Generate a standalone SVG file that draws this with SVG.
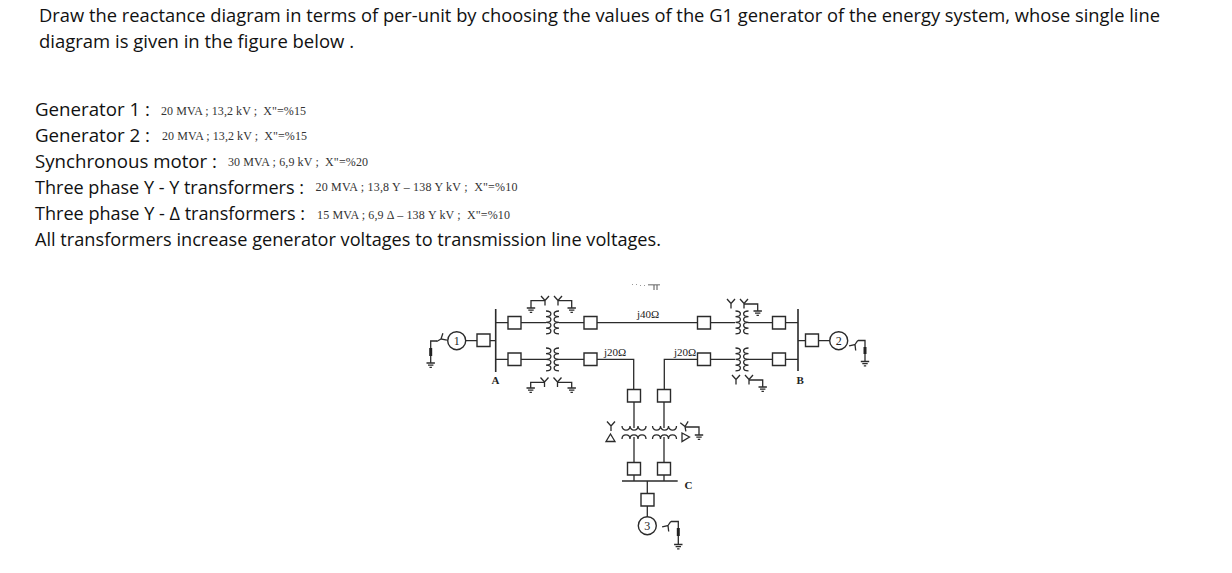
<svg xmlns="http://www.w3.org/2000/svg" width="1232" height="573" viewBox="0 0 1232 573">
<style>
.t{font-family:"Open Sans","Noto Sans",sans-serif;font-size:18px;fill:#111}
.s{font-family:"Liberation Serif",serif;font-size:12px;fill:#333}
.l{font-family:"Liberation Serif",serif;font-size:11px;fill:#222}
.b{font-family:"Liberation Serif",serif;font-size:11px;font-weight:bold;fill:#222}
.n{font-family:"Liberation Serif",serif;font-size:12px;fill:#222;text-anchor:middle}
.w{fill:none;stroke:#2b2b2b;stroke-width:1.3}
.h{fill:none;stroke:#2b2b2b;stroke-width:1.6}
.x{fill:#fff;stroke:#2b2b2b;stroke-width:1.4}
</style>
<defs>
<path id="gnd" class="w" d="M-4.200 0H4.200M-2.700 2.200H2.700M-1.200 4.400H1.200"/>
<path id="box" class="x" d="M0 0h13v12.500h-13z"/>
<path id="y" class="w" d="M-4 -4.500L0 0L4 -4.500M0 0V5"/>
<path id="coilv" class="w" d="M546 0c6.500 0 6.500 5.700 0 5.700c6.500 0 6.500 5.700 0 5.700c6.500 0 6.500 5.700 0 5.700c6.500 0 6.500 5.700 0 5.700M559 0c-6.500 0-6.500 5.700 0 5.700c-6.500 0-6.500 5.700 0 5.700c-6.500 0-6.500 5.700 0 5.700c-6.500 0-6.500 5.700 0 5.700"/>
<path id="coilh" class="w" d="M0 0c0 5.500 8 5.500 8 0c0 5.500 8 5.500 8 0c0 5.500 8 5.500 8 0M0 13c0-5.500 8-5.500 8 0c0-5.500 8-5.500 8 0c0-5.500 8-5.500 8 0"/>
</defs>
<rect width="1232" height="573" fill="#fff"/>
<g id="statement">
<text class="t" x="39" y="22" textLength="1121" lengthAdjust="spacingAndGlyphs">Draw the reactance diagram in terms of per-unit by choosing the values of the G1 generator of the energy system, whose single line</text>
<text class="t" x="39" y="48" textLength="315" lengthAdjust="spacingAndGlyphs">diagram is given in the figure below .</text>
<text class="t" x="35" y="116" textLength="115" lengthAdjust="spacingAndGlyphs">Generator 1 :</text>
<text class="s" x="161" y="115" textLength="145" xml:space="preserve">20 MVA ; 13,2 kV ;  X"=%15</text>
<text class="t" x="35" y="142" textLength="115" lengthAdjust="spacingAndGlyphs">Generator 2 :</text>
<text class="s" x="162" y="140" textLength="145" xml:space="preserve">20 MVA ; 13,2 kV ;  X"=%15</text>
<text class="t" x="35" y="168" textLength="182" lengthAdjust="spacingAndGlyphs">Synchronous motor :</text>
<text class="s" x="228" y="166" textLength="140" xml:space="preserve">30 MVA ; 6,9 kV ;  X"=%20</text>
<text class="t" x="35" y="194" textLength="269" lengthAdjust="spacingAndGlyphs">Three phase Y - Y transformers :</text>
<text class="s" x="315.500" y="191" textLength="202" xml:space="preserve">20 MVA ; 13,8 Y – 138 Y kV ;  X"=%10</text>
<text class="t" x="35" y="220" textLength="270" lengthAdjust="spacingAndGlyphs">Three phase Y - Δ transformers :</text>
<text class="s" x="317" y="219" textLength="193" xml:space="preserve">15 MVA ; 6,9 Δ – 138 Y kV ;  X"=%10</text>
<text class="t" x="35" y="246" textLength="626" lengthAdjust="spacingAndGlyphs">All transformers increase generator voltages to transmission line voltages.</text>
</g>
<g id="connectors">
<path class="h" d="M495.700 309V372M798 309V371M622 481H677.700"/>
<path class="w" d="M466 340.700H477M490 340.700H496M496 322.700H508M521 322.700H546M559 322.700H584M597 322.700H697M710 322.700H735M748 322.700H772M785 322.700H798"/>
<path class="w" d="M496 359.300H508M521 359.300H546M559 359.300H584M597 359.300H633.700V390M664.300 390V359.300H697M710 359.300H735M748 359.300H772M785 359.300H798"/>
<path class="w" d="M798 340.700H806M819 340.700H830M634 402V428M634 437V463M664 402V428M664 437V463M634 475V481M664 475V481M647.300 481V493.500M647.300 506V517"/>
<path class="w" d="M437 341H430.700V363M531 308V300.700H545M558 300.700H571.700V308M744 304H757.700V311M530.700 388V382.300H544.500M557.500 382.300H571.700V388M749 380H762.700V387M685 427H699V435M858 340.500H865V361M671 521.500H678.300V544"/>
</g>
<g id="labels">
<text class="b" x="491.500" y="384">A</text>
<text class="b" x="796.500" y="384">B</text>
<text class="b" x="684.500" y="489">C</text>
<text class="l" x="637" y="318">j40Ω</text>
<text class="l" x="604" y="356">j20Ω</text>
<text class="l" x="674" y="356">j20Ω</text>
</g>
<g id="gen1"><circle class="x" cx="456.700" cy="340.700" r="9"/><text class="n" x="456.700" y="345">1</text><use href="#y" transform="translate(441 339) rotate(60)"/><path d="M430.700 348v8" stroke="#222" stroke-width="3"/><use href="#gnd" transform="translate(430.700 363)"/></g>
<g id="gen2"><circle class="x" cx="838.700" cy="340.700" r="9"/><text class="n" x="838.700" y="345">2</text><use href="#y" transform="translate(855 344.500) rotate(215)"/><path d="M865 347v7" stroke="#222" stroke-width="3"/><use href="#gnd" transform="translate(865 361.500)"/></g>
<g id="motor3"><circle class="x" cx="647.300" cy="525.700" r="9"/><text class="n" x="647.300" y="530">3</text><use href="#y" transform="translate(668 525.500) rotate(215)"/><path d="M678.300 528v8" stroke="#222" stroke-width="3"/><use href="#gnd" transform="translate(678.300 544.500)"/></g>
<g id="breakers">
<use href="#box" x="477" y="334"/><use href="#box" x="508" y="316.500"/><use href="#box" x="584" y="316.500"/><use href="#box" x="508" y="353"/><use href="#box" x="584" y="353"/>
<use href="#box" x="697.500" y="316.500"/><use href="#box" x="772.500" y="316.500"/><use href="#box" x="697.500" y="353"/><use href="#box" x="772.500" y="353"/><use href="#box" x="805.500" y="334"/>
<use href="#box" x="627.500" y="389.500"/><use href="#box" x="657.500" y="389.500"/><use href="#box" x="627.500" y="462.500"/><use href="#box" x="657.500" y="462.500"/><use href="#box" x="641" y="493.500"/>
</g>
<g id="t1"><use href="#coilv" y="311"/><use href="#y" transform="translate(545 300.500)"/><use href="#y" transform="translate(558 300.500)"/><use href="#gnd" transform="translate(531 308)"/><use href="#gnd" transform="translate(571.700 308)"/></g>
<g id="t2"><use href="#coilv" y="348"/><use href="#y" transform="translate(544.500 382)"/><use href="#y" transform="translate(557.500 382)"/><use href="#gnd" transform="translate(530.700 388)"/><use href="#gnd" transform="translate(571.700 388)"/></g>
<g id="t3"><use href="#coilv" x="189.500" y="311"/><use href="#y" transform="translate(731 303.500)"/><use href="#y" transform="translate(744 303.500)"/><use href="#gnd" transform="translate(757.700 311)"/></g>
<g id="t4"><use href="#coilv" x="189.500" y="348"/><use href="#y" transform="translate(736 379.500)"/><use href="#y" transform="translate(749 379.500)"/><use href="#gnd" transform="translate(762.700 387)"/></g>
<g id="t5"><use href="#coilh" x="622" y="426"/><use href="#y" transform="translate(611 426)"/><path class="w" d="M610.500 434L615 441.500H606Z"/></g>
<g id="t6"><use href="#coilh" x="652.500" y="426"/><use href="#y" transform="translate(685 426.500) rotate(-10)"/><path class="w" d="M682 433V441.500L689.500 437Z"/><use href="#gnd" transform="translate(699 435)"/></g>
<g id="smudge" fill="#999"><rect x="632" y="284" width="1" height="1"/><rect x="636" y="284" width="1" height="1"/><rect x="640" y="285" width="1" height="1"/><rect x="644" y="285" width="1" height="1"/><rect x="648" y="284" width="12" height="1.500"/><path d="M654 285v5M657 285v5" stroke="#555" fill="none"/></g>
</svg>
